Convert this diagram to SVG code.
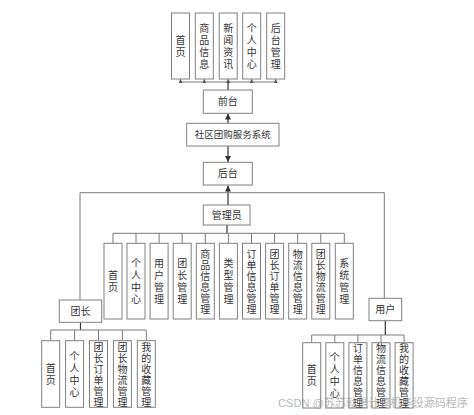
<svg xmlns="http://www.w3.org/2000/svg" width="474" height="415" viewBox="0 0 474 415">
<style>
.b{fill:#fff;stroke:#808080;stroke-width:1}
.t{font-family:"Noto Sans CJK SC","Noto Sans",sans-serif;font-size:10px;fill:#333;text-anchor:middle}
.v{font-family:"Noto Sans CJK SC","Noto Sans",sans-serif;font-size:10px;fill:#333;text-anchor:middle;writing-mode:vertical-rl;letter-spacing:2px}
.v6{letter-spacing:1px}
.l{fill:none;stroke:#7a7a7a;stroke-width:1}
.m{fill:none;stroke:#333;stroke-width:1.2}
.w{font-family:"Liberation Sans","Noto Sans CJK SC",sans-serif;font-size:11px;fill:#9a9a9a;opacity:0.7}
</style>
<defs>
<marker id="ah" viewBox="0 0 6 6" refX="6" refY="3" markerWidth="5" markerHeight="5" orient="auto"><path d="M0,0L6,3L0,6z" fill="#333"/></marker>
<marker id="as" viewBox="0 0 6 6" refX="6" refY="3" markerWidth="4" markerHeight="4" orient="auto"><path d="M0,0L6,3L0,6z" fill="#555"/></marker>
</defs>
<rect width="474" height="415" fill="#fff"/>
<g id="connectors">
<path class="l" d="M180.5,82H275.7"/>
<path class="l" d="M180.5,82V79" marker-end="url(#as)"/>
<path class="l" d="M204.3,82V79" marker-end="url(#as)"/>
<path class="l" d="M228.2,82V79" marker-end="url(#as)"/>
<path class="l" d="M251.7,82V79" marker-end="url(#as)"/>
<path class="l" d="M275.7,82V79" marker-end="url(#as)"/>
<path class="m" d="M228,82V90"/>
<path class="m" d="M228,123V113.5" marker-end="url(#ah)"/>
<path class="m" d="M228,146V162" marker-end="url(#ah)"/>
<path class="m" d="M228,205V185.5" marker-end="url(#ah)"/>
<path class="l" d="M80,300V192.7H384.3V298.3"/>
<path class="m" d="M227,225V233.3"/>
<path class="l" d="M113,243.3V233.3H344.3V243.3M136,233.3V243.3M159.1,233.3V243.3M182.2,233.3V243.3M205.3,233.3V243.3M228.4,233.3V243.3M251.5,233.3V243.3M274.6,233.3V243.3M297.7,233.3V243.3M320.8,233.3V243.3"/>
<path class="m" d="M80.5,322.3V330"/>
<path class="l" d="M50.7,340.7V330H146.3V340.7M74.6,330V340.7M98.5,330V340.7M122.4,330V340.7"/>
<path class="m" d="M385.3,320.7V335"/>
<path class="l" d="M311.7,342.7V335H404.1V342.7M334.8,335V342.7M357.9,335V342.7M381,335V342.7"/>
</g>
<g id="top-首页"><rect class="b" x="171.5" y="13" width="18" height="66"/><text class="v" x="180.5" y="47">首页</text></g>
<g id="top-商品信息"><rect class="b" x="195.3" y="13" width="18" height="66"/><text class="v" x="204.3" y="47">商品信息</text></g>
<g id="top-新闻资讯"><rect class="b" x="219.2" y="13" width="18" height="66"/><text class="v" x="228.2" y="47">新闻资讯</text></g>
<g id="top-个人中心"><rect class="b" x="242.7" y="13" width="18" height="66"/><text class="v" x="251.7" y="47">个人中心</text></g>
<g id="top-后台管理"><rect class="b" x="266.7" y="13" width="18" height="66"/><text class="v" x="275.7" y="47">后台管理</text></g>
<g id="前台"><rect class="b" x="203.3" y="90" width="49" height="23.3"/><text class="t" x="227.8" y="105">前台</text></g>
<g id="系统"><rect class="b" x="186.7" y="123.3" width="92.3" height="22.7"/><text class="t" x="232.8" y="138" style="font-size:9.5px">社区团购服务系统</text></g>
<g id="后台"><rect class="b" x="203.3" y="162.3" width="49" height="22.7"/><text class="t" x="227.8" y="177">后台</text></g>
<g id="管理员"><rect class="b" x="203.3" y="205" width="46.7" height="20"/><text class="t" x="226.7" y="218.5">管理员</text></g>
<g id="a1"><rect class="b" x="104" y="243.3" width="18" height="75.7"/><text class="v" x="113" y="282">首页</text></g>
<g id="a2"><rect class="b" x="127" y="243.3" width="18" height="75.7"/><text class="v" x="136" y="282">个人中心</text></g>
<g id="a3"><rect class="b" x="150.1" y="243.3" width="18" height="75.7"/><text class="v" x="159.1" y="282">用户管理</text></g>
<g id="a4"><rect class="b" x="173.2" y="243.3" width="18" height="75.7"/><text class="v" x="182.2" y="282">团长管理</text></g>
<g id="a5"><rect class="b" x="196.3" y="243.3" width="18" height="75.7"/><text class="v v6" x="205.3" y="282">商品信息管理</text></g>
<g id="a6"><rect class="b" x="219.4" y="243.3" width="18" height="75.7"/><text class="v" x="228.4" y="282">类型管理</text></g>
<g id="a7"><rect class="b" x="242.5" y="243.3" width="18" height="75.7"/><text class="v v6" x="251.5" y="282">订单信息管理</text></g>
<g id="a8"><rect class="b" x="265.6" y="243.3" width="18" height="75.7"/><text class="v v6" x="274.6" y="282">团长订单管理</text></g>
<g id="a9"><rect class="b" x="288.7" y="243.3" width="18" height="75.7"/><text class="v v6" x="297.7" y="282">物流信息管理</text></g>
<g id="a10"><rect class="b" x="311.8" y="243.3" width="18" height="75.7"/><text class="v v6" x="320.8" y="282">团长物流管理</text></g>
<g id="a11"><rect class="b" x="335.3" y="243.3" width="18" height="75.7"/><text class="v" x="344.3" y="282">系统管理</text></g>
<g id="团长"><rect class="b" x="59.3" y="300" width="42.4" height="22.3"/><text class="t" x="80.5" y="314.5">团长</text></g>
<g id="g1"><rect class="b" x="41.7" y="340.7" width="18" height="66.6"/><text class="v" x="50.7" y="375">首页</text></g>
<g id="g2"><rect class="b" x="65.6" y="340.7" width="18" height="66.6"/><text class="v" x="74.6" y="375">个人中心</text></g>
<g id="g3"><rect class="b" x="89.5" y="340.7" width="18" height="66.6"/><text class="v v6" x="98.5" y="375">团长订单管理</text></g>
<g id="g4"><rect class="b" x="113.4" y="340.7" width="18" height="66.6"/><text class="v v6" x="122.4" y="375">团长物流管理</text></g>
<g id="g5"><rect class="b" x="137.3" y="340.7" width="18" height="66.6"/><text class="v v6" x="146.3" y="375">我的收藏管理</text></g>
<g id="用户"><rect class="b" x="369" y="298.3" width="32.7" height="22.4"/><text class="t" x="385.3" y="313">用户</text></g>
<g id="u1"><rect class="b" x="302.7" y="342.7" width="18" height="65.3"/><text class="v" x="311.7" y="376">首页</text></g>
<g id="u2"><rect class="b" x="325.8" y="342.7" width="18" height="65.3"/><text class="v" x="334.8" y="376">个人中心</text></g>
<g id="u3"><rect class="b" x="348.9" y="342.7" width="18" height="65.3"/><text class="v v6" x="357.9" y="376">订单信息管理</text></g>
<g id="u4"><rect class="b" x="372" y="342.7" width="18" height="65.3"/><text class="v v6" x="381" y="376">物流信息管理</text></g>
<g id="u5"><rect class="b" x="395.1" y="342.7" width="18" height="65.3"/><text class="v v6" x="404.1" y="376">我的收藏管理</text></g>
<text class="w" x="278" y="407" textLength="190" lengthAdjust="spacingAndGlyphs">CSDN @苏苏就是计算机毕设源码程序</text>
</svg>
